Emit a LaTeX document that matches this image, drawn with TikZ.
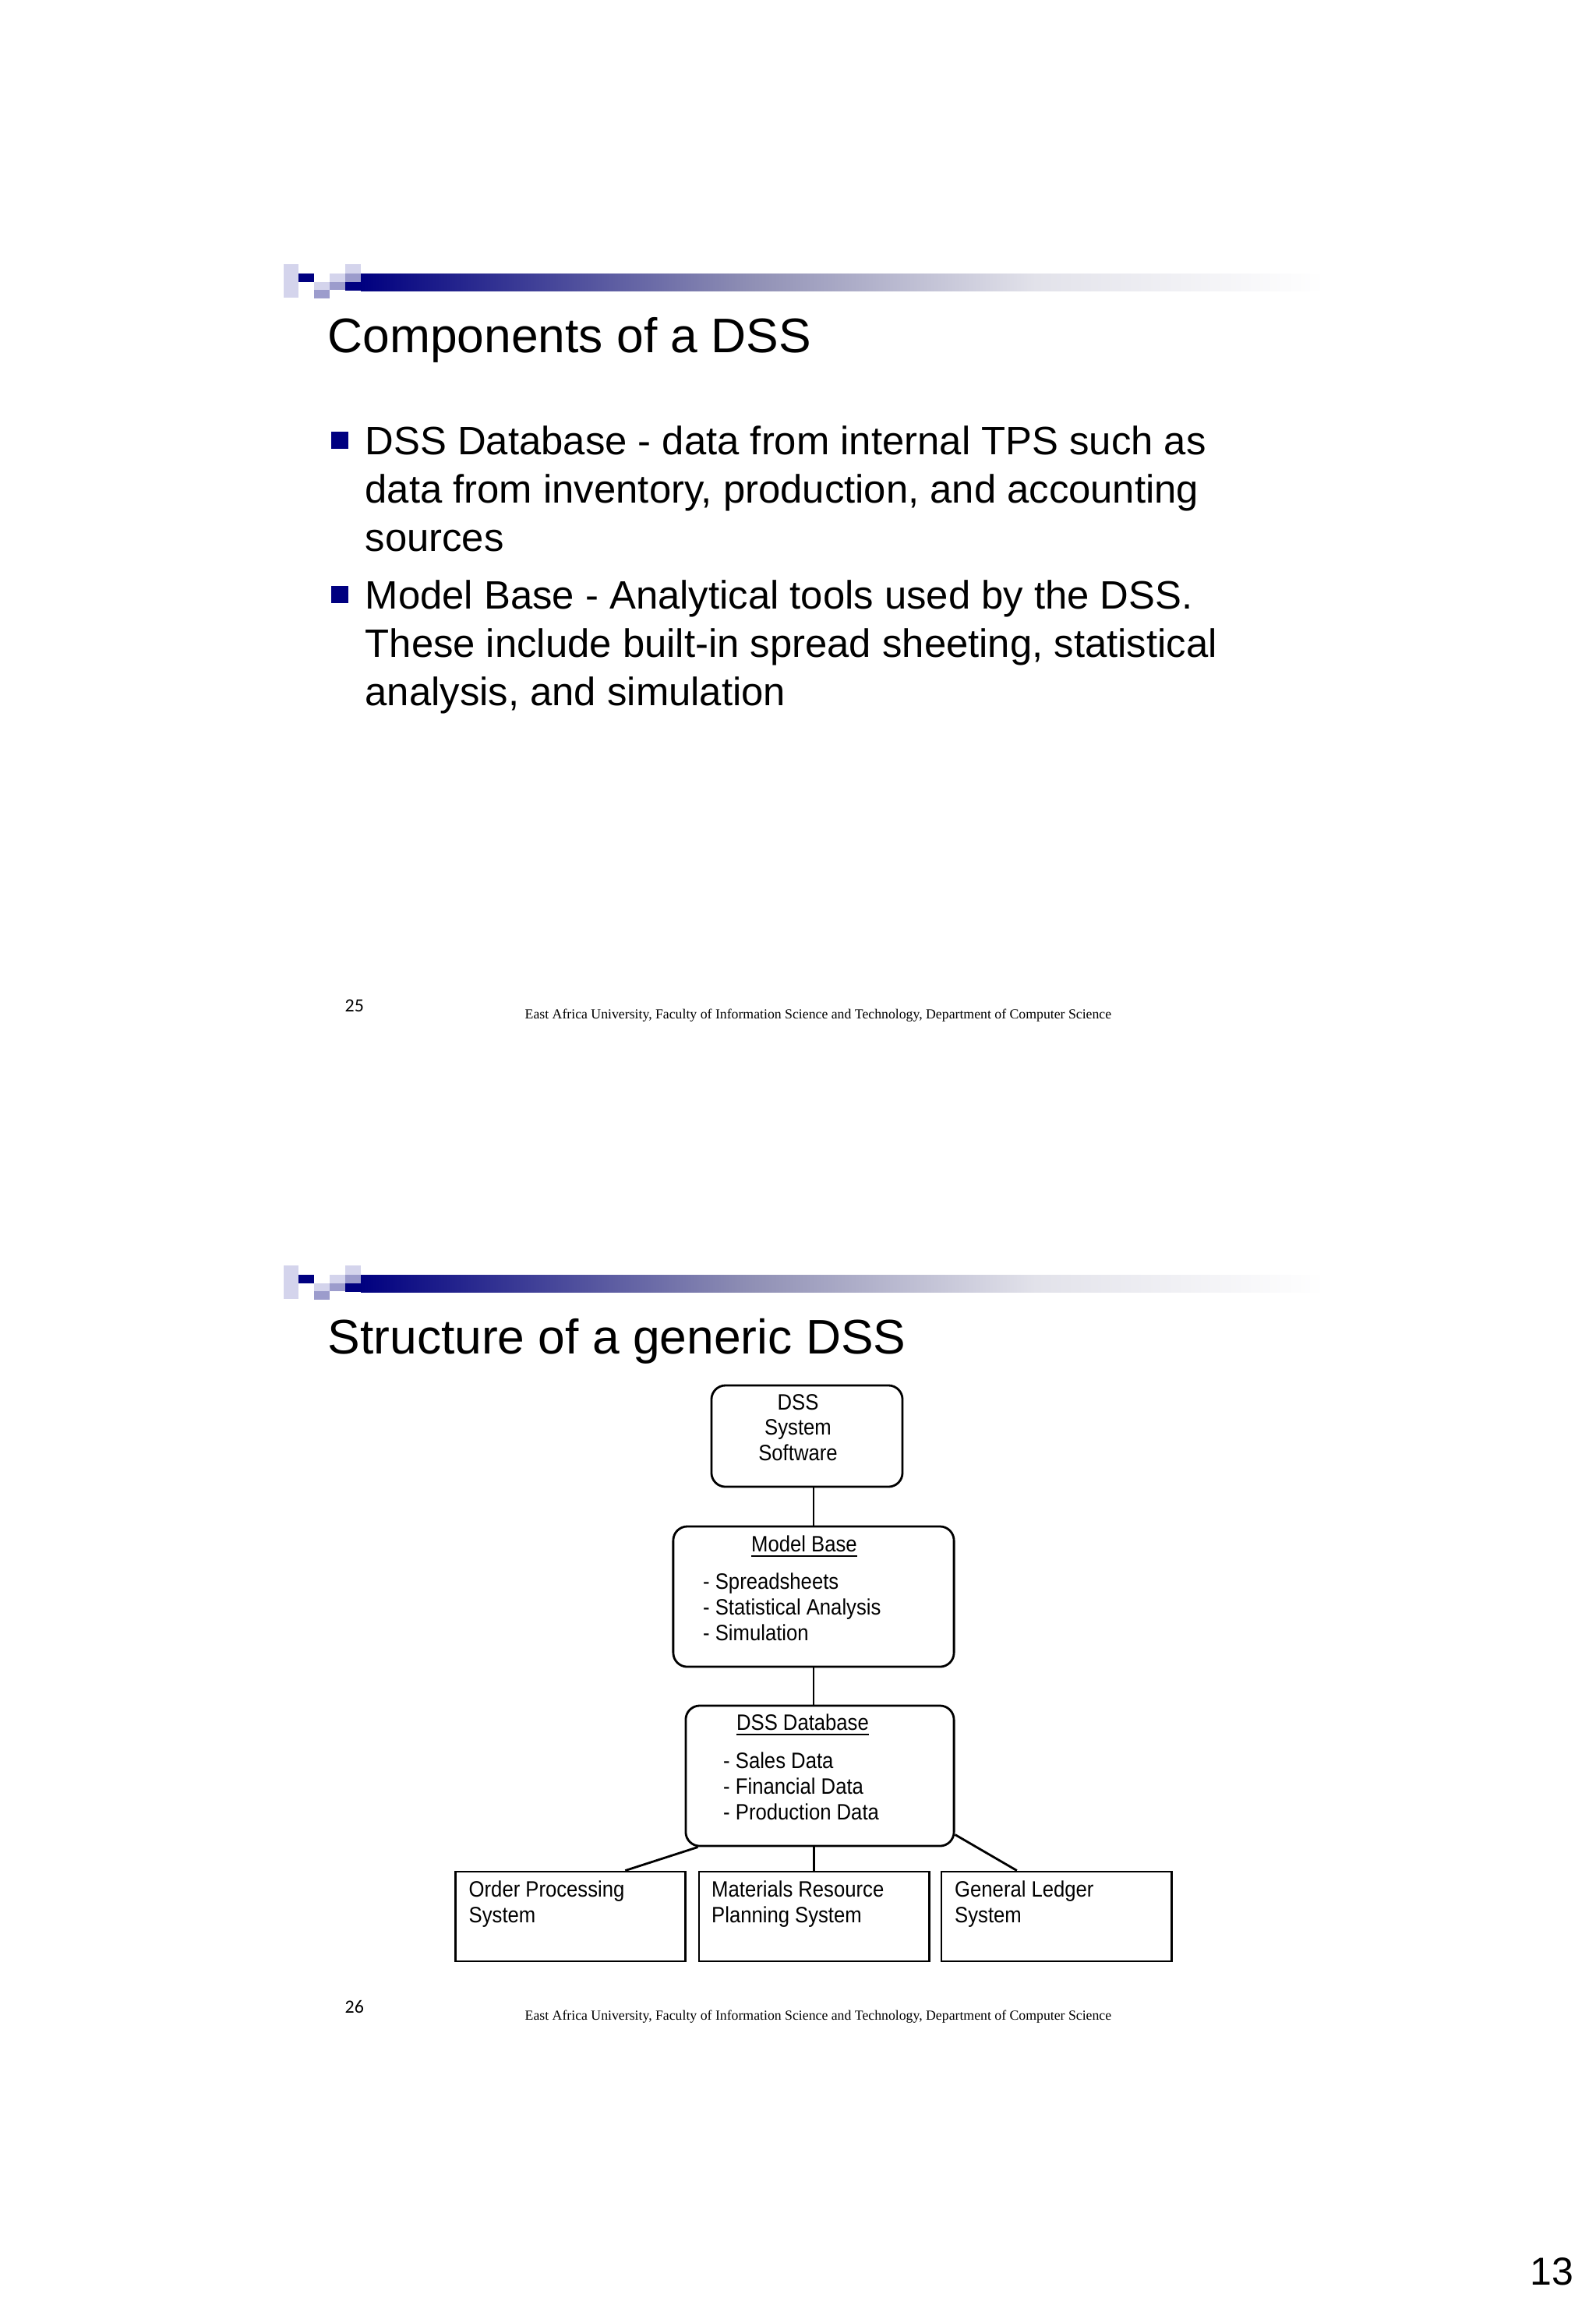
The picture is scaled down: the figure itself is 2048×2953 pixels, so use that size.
\documentclass[tikz,border=0pt]{standalone}
\usepackage{graphicx}
\usepackage{fontspec}
\setmainfont{Liberation Sans}
\newfontfamily\diagfont[FakeStretch=0.9]{Liberation Sans}
\newfontfamily\footfont{Liberation Serif}
\newfontfamily\numfont{Carlito}
\usepackage{tikz}
\usetikzlibrary{positioning, calc}
\definecolor{slidenavy}{HTML}{000080}
\definecolor{lavlight}{HTML}{D4D4EC}
\definecolor{lavmid}{HTML}{9C9CCC}
\definecolor{barmid}{HTML}{8E8EB4}
\definecolor{barlight}{HTML}{E2E2EA}
\pgfdeclarehorizontalshading{barfade}{100bp}{color(0bp)=(slidenavy); color(25bp)=(slidenavy);
  color(45bp)=(barmid); color(60bp)=(barlight); color(75bp)=(white); color(100bp)=(white)}

\begin{document}
\begin{tikzpicture}[x=0.01cm, y=-0.01cm,
  slidetitle/.style={anchor=base west, inner sep=0, font=\fontsize{17.73pt}{22pt}\selectfont},
  bullettext/.style={anchor=north west, inner sep=0, align=left,
    font=\fontsize{14.45pt}{17.64pt}\selectfont},
  bulletsq/.style={fill=slidenavy, inner sep=0, minimum size=0.22cm},
  pagenum/.style={anchor=base west, inner sep=0, font=\numfont\fontsize{6.8pt}{8pt}\selectfont},
  footer/.style={anchor=base west, inner sep=0},
  rbox/.style={draw, line width=0.8pt, rounded corners=0.18cm},
  sbox/.style={draw, line width=0.8pt, minimum width=2.95cm, minimum height=1.15cm},
  boxtitle/.style={inner sep=0, align=center, font=\diagfont\fontsize{8.11pt}{9.3pt}\selectfont},
  boxitems/.style={inner sep=0, align=left, font=\diagfont\fontsize{8.11pt}{9.3pt}\selectfont},
  link/.style={line width=0.6pt}]
  \useasboundingbox (0,0) rectangle (2048,2953);
  \fill[white] (0,0) rectangle (2048,2953);

  % the two slide frames: logo, bar, title and footer
  \foreach \dy/\num/\ttl in {0/25/Components of a DSS, 1285/26/Structure of a generic DSS}{
    \begin{scope}[shift={(0,\dy)}]
      \fill[lavlight] (364,339) rectangle (383,382);
      \fill[slidenavy] (383,351) rectangle (403,362);
      \fill[lavlight] (403,362) rectangle (423,372);
      \fill[lavmid] (403,372) rectangle (423,383);
      \fill[lavlight] (423,351) rectangle (443,362);
      \fill[lavmid] (423,362) rectangle (443,372);
      \fill[lavlight] (443,339) rectangle (463,351);
      \fill[lavmid] (443,351) rectangle (463,362);
      \fill[slidenavy] (443,362) rectangle (463,373);
      \shade[shading=barfade] (463,351) rectangle (1700,373);
      \node[slidetitle] (title-\num) at (420,452) {\ttl};
      \node[pagenum] (num-\num) at (442,1298) {\num};
      \node[footer] (foot-\num) at (673,1307) {\resizebox{7.52cm}{!}{\footfont East Africa University,
        Faculty of Information Science and Technology, Department of Computer Science}};
    \end{scope}
  }

  % slide 25: bullets
  \node[bulletsq] (sq1) at (436,565) {};
  \node[bullettext] (dbtext) at (468,546) {DSS Database - data from internal TPS such as\\
    data from inventory, production, and accounting\\sources};
  \node[bulletsq] (sq2) at (436,763) {};
  \node[bullettext] (mbtext) at (468,744) {Model Base - Analytical tools used by the DSS.\\
    These include built-in spread sheeting, statistical\\analysis, and simulation};

  % slide 26: structure
  \node[rbox, minimum width=2.45cm, minimum height=1.30cm] (sys) at (1035.5,1843) {};
  \node[rbox, minimum width=3.60cm, minimum height=1.80cm] (mb) at (1044,2049) {};
  \node[rbox, minimum width=3.44cm, minimum height=1.80cm] (db) at (1052,2279) {};
  \node[sbox] (op) at (732,2459.5) {};
  \node[sbox] (mrp) at (1044.5,2459.5) {};
  \node[sbox] (gl) at (1355.5,2459.5) {};

  \node[boxtitle, below=0.12cm of sys.north, xshift=-0.115cm] (systext) {DSS\\System\\Software};
  \node[boxtitle, below=0.13cm of mb.north, xshift=-0.12cm] (mbtitle) {\underline{Model Base}};
  \node[boxitems, below right=0.61cm and 0.39cm of mb.north west] (mbitems)
    {- Spreadsheets\\- Statistical Analysis\\- Simulation};
  \node[boxtitle, below=0.12cm of db.north, xshift=-0.22cm] (dbtitle) {\underline{DSS Database}};
  \node[boxitems, below right=0.61cm and 0.49cm of db.north west] (dbitems)
    {- Sales Data\\- Financial Data\\- Production Data};
  \node[boxitems, below right=0.13cm and 0.18cm of op.north west] (optext) {Order Processing\\System};
  \node[boxitems, below right=0.13cm and 0.17cm of mrp.north west] (mrptext) {Materials Resource\\Planning System};
  \node[boxitems, below right=0.13cm and 0.18cm of gl.north west] (gltext) {General Ledger\\System};

  \draw[link] (mb.north) -- (mb.north |- sys.south);
  \draw[link] (mb.south) -- (mb.south |- db.north);
  \draw[link] (mrp.north) -- (mrp.north |- db.south);
  \draw[link, line width=0.8pt] ($(op.north west)!0.736!(op.north east)$) -- ($(db.south west)+(17,0)$);
  \draw[link, line width=0.8pt] ($(gl.north west)!0.33!(gl.north east)$) -- ($(db.south east)+(0,-16)$);

  \node[anchor=base west, inner sep=0, font=\fontsize{14.23pt}{17pt}\selectfont] (pageno) at (1963,2932) {13};
\end{tikzpicture}
\end{document}
